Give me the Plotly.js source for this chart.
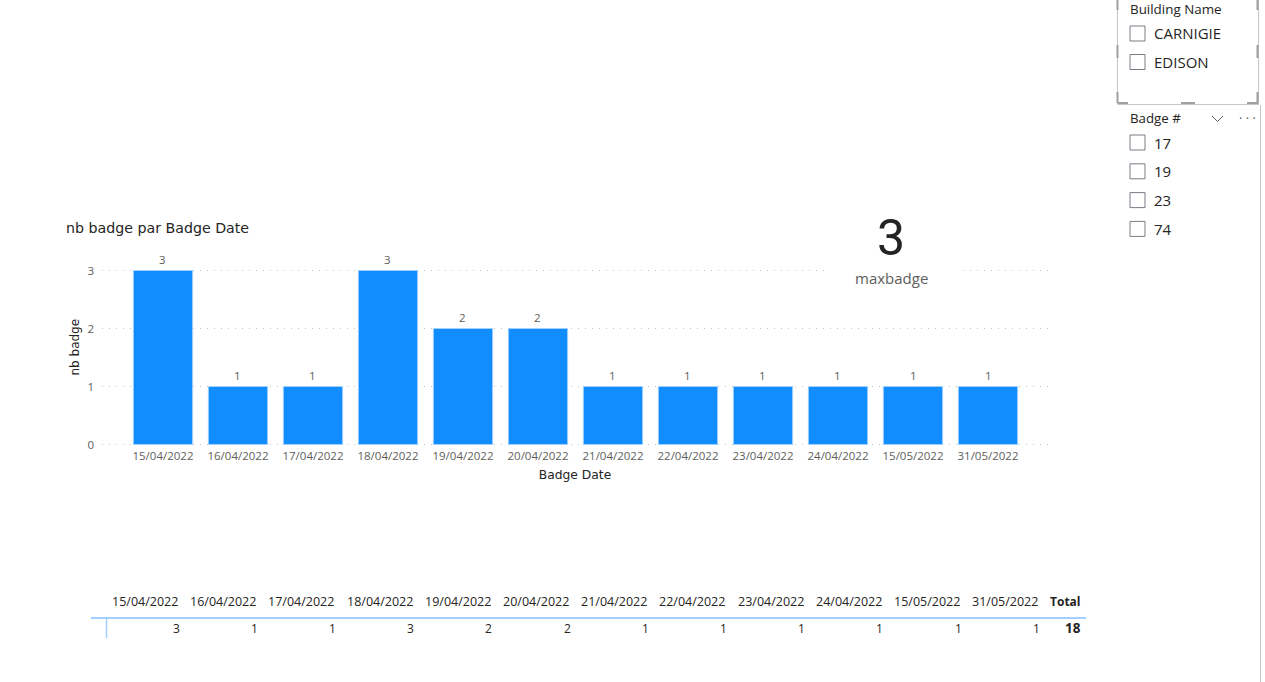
<!DOCTYPE html>
<html>
<head>
<meta charset="utf-8">
<script src="https://cdn.plot.ly/plotly-3.0.1.min.js"></script>
<style>
html, body { margin: 0; padding: 0; background: #fff; overflow: hidden; }
</style>
</head>
<body>
<div id="chart"></div>
<script>
const badgeDates = ['15/04/2022', '16/04/2022', '17/04/2022', '18/04/2022', '19/04/2022', '20/04/2022',
    '21/04/2022', '22/04/2022', '23/04/2022', '24/04/2022', '15/05/2022', '31/05/2022'];
const nbBadge = [3, 1, 1, 3, 2, 2, 1, 1, 1, 1, 1, 1];
const totalBadge = 18;
const maxBadge = 3;
const buildingNames = ['CARNIGIE', 'EDISON'];
const badgeNumbers = ['17', '19', '23', '74'];

const W = 1265, H = 682;
const UI_FONT = 'Open Sans, Noto Sans, sans-serif';
const TITLE_FONT = 'DejaVu Sans, sans-serif';
const px = x => x / W;
const py = y => 1 - y / H;

function label(text, x, y, size, color, anchor = 'left', extra = {}) {
    return {
        text: text, x: px(x), y: py(y), xref: 'paper', yref: 'paper',
        xanchor: anchor, yanchor: 'middle', showarrow: false,
        font: { family: UI_FONT, size: size, color: color }, ...extra
    };
}

function line(x0, y0, x1, y1, color, width) {
    return {
        type: 'line', xref: 'paper', yref: 'paper', layer: 'above',
        x0: px(x0), y0: py(y0), x1: px(x1), y1: py(y1),
        line: { color: color, width: width }
    };
}

function checkbox(x, y) {
    return {
        type: 'rect', xref: 'paper', yref: 'paper',
        x0: px(x), y0: py(y - 7.5), x1: px(x + 15), y1: py(y + 7.5),
        line: { color: '#7a7a85', width: 1 }, fillcolor: '#fff'
    };
}

const annotations = [];
const shapes = [];

// bar values, placed by data so the gap above the bar can be tuned
badgeDates.forEach((d, i) => {
    annotations.push({
        text: String(nbBadge[i]), x: d, y: nbBadge[i], xref: 'x', yref: 'y',
        xanchor: 'center', yanchor: 'bottom', yshift: 2, showarrow: false,
        font: { family: UI_FONT, size: 11.5, color: '#605e5c' }
    });
});

// card sits on top of the chart and hides the 3 gridline behind it
shapes.push({
    type: 'rect', xref: 'paper', yref: 'paper', layer: 'above',
    x0: px(825), x1: px(957), y0: py(215), y1: py(295),
    line: { width: 0 }, fillcolor: '#fff'
});
annotations.push(label(String(maxBadge), 891, 238, 50, '#252423', 'center', { font: { family: 'Roboto, sans-serif', size: 50, color: '#252423' } }));
annotations.push(label('maxbadge', 891.5, 278, 15, '#605e5c', 'center'));

// chart title and y axis title
annotations.push(label('nb badge par Badge Date', 64, 228, 14.2, '#252423', 'left', { font: { family: TITLE_FONT, size: 14.2, color: '#252423' } }));
annotations.push(label('nb badge', 74.5, 347, 12, '#252423', 'center', { textangle: -90, font: { family: TITLE_FONT, size: 12, color: '#252423' } }));

// table under the chart
const tableRight = badgeDates.map((d, i) => 180 + i * 78.2);
badgeDates.forEach((d, i) => {
    annotations.push(label(d, tableRight[i], 601.5, 12.5, '#252423', 'right'));
    annotations.push(label(String(nbBadge[i]), tableRight[i] + 1.5, 628.5, 12, '#252423', 'right'));
});
annotations.push(label('<b>Total</b>', 1083, 601.5, 12, '#252423', 'right'));
annotations.push(label('<b>' + totalBadge + '</b>', 1083, 628, 13.5, '#252423', 'right'));
shapes.push(line(91, 618, 1086, 618, '#a0d0ff', 2));
shapes.push(line(106.5, 619, 106.5, 638, '#a0d0ff', 1.5));

// building slicer
annotations.push(label('Building Name', 1128, 9.5, 13.4, '#252423'));
buildingNames.forEach((name, i) => {
    const y = 33.5 + i * 28.5;
    shapes.push(checkbox(1130, y));
    annotations.push(label(name, 1152, y, 15, '#252423'));
});
shapes.push(line(1117.5, 0, 1117.5, 104, '#c8c6c4', 1));
shapes.push(line(1258.5, 0, 1258.5, 104, '#c8c6c4', 1));
shapes.push(line(1117.5, 104.5, 1259, 104.5, '#c8c6c4', 1));
[[1117.5, 0, 1117.5, 10], [1257.5, 0, 1257.5, 10], [1117.5, 45, 1117.5, 58], [1257.5, 45, 1257.5, 58],
 [1117.5, 92, 1117.5, 103], [1257.5, 92, 1257.5, 103], [1118, 103, 1128, 103], [1247, 103, 1258, 103],
 [1181, 103, 1195, 103]].forEach(s => shapes.push(line(s[0], s[1], s[2], s[3], '#a19f9d', 2)));

// badge slicer
annotations.push(label('Badge #', 1128, 117.5, 13.3, '#252423'));
shapes.push(line(1212, 116, 1217.5, 121.5, '#605e5c', 1));
shapes.push(line(1217.5, 121.5, 1223, 116, '#605e5c', 1));
annotations.push(label('· · ·', 1247, 117.5, 13, '#605e5c', 'center'));
badgeNumbers.forEach((num, i) => {
    const y = 142.5 + i * 28.8;
    shapes.push(checkbox(1130, y));
    annotations.push(label(num, 1152, y, 15, '#252423'));
});
shapes.push(line(1260.5, 105, 1260.5, 682, '#c8c6c4', 1));

const bars = {
    type: 'bar',
    x: badgeDates,
    y: nbBadge,
    width: 0.79,
    marker: { color: '#118dff', line: { color: '#a0d0ff', width: 1 } },
    cliponaxis: false,
    hoverinfo: 'x+y'
};

// the range runs a bit past 0 and 3, plotly drops gridlines sitting on the ends
const yPad = 0.03;
const unitPx = 58;

const layout = {
    width: W,
    height: H,
    margin: { l: 0, r: 0, t: 0, b: 0 },
    paper_bgcolor: '#fff',
    plot_bgcolor: '#fff',
    showlegend: false,
    xaxis: {
        type: 'category',
        domain: [px(102), px(1048)],
        range: [-0.813, 11.8],
        showgrid: false,
        zeroline: false,
        showline: false,
        ticks: '',
        tickangle: 0,
        ticklabelstandoff: 1,
        tickfont: { family: UI_FONT, size: 11.5, color: '#605e5c' },
        title: { text: 'Badge Date', standoff: 8, font: { family: TITLE_FONT, size: 12.3, color: '#252423' } }
    },
    yaxis: {
        domain: [py(444.5 + yPad * unitPx), py(270.5 - yPad * unitPx)],
        range: [-yPad, 3 + yPad],
        tickvals: [0, 1, 2, 3],
        showgrid: true,
        griddash: '1px,6px',
        gridcolor: '#c8c6c4',
        gridwidth: 1,
        zeroline: false,
        showline: false,
        ticks: '',
        ticklabelstandoff: 7,
        tickfont: { family: UI_FONT, size: 11.5, color: '#605e5c' }
    },
    annotations: annotations,
    shapes: shapes
};

Plotly.newPlot('chart', [bars], layout, { displayModeBar: false, staticPlot: true });
</script>
</body>
</html>
